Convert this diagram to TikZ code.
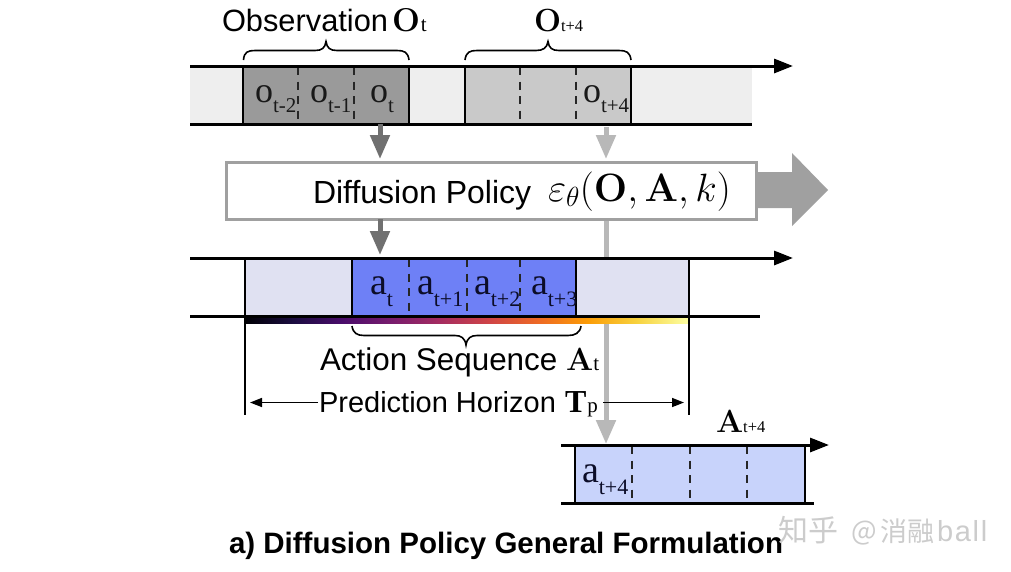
\documentclass[tikz,border=0pt]{standalone}
\usepackage{fix-cm}
\usepackage[no-math]{fontspec}
\setmainfont{Liberation Sans}
\newfontfamily\tms{Liberation Serif}
\newfontfamily\cjk{Noto Sans CJK SC}
\usetikzlibrary{arrows.meta,calc}
\definecolor{inf0}{HTML}{000004}
\definecolor{inf1}{HTML}{1B0C41}
\definecolor{inf2}{HTML}{4A0C6B}
\definecolor{inf3}{HTML}{781C6D}
\definecolor{inf4}{HTML}{A52C60}
\definecolor{inf5}{HTML}{CF4446}
\definecolor{inf6}{HTML}{ED6925}
\definecolor{inf7}{HTML}{FB9B06}
\definecolor{inf8}{HTML}{F7D13D}
\definecolor{inf9}{HTML}{FCFFA4}
\pgfdeclarehorizontalshading{inferno}{100bp}{
 color(0bp)=(inf0); color(25bp)=(inf0);
 color(30.5bp)=(inf1); color(36bp)=(inf2);
 color(41.5bp)=(inf3); color(47bp)=(inf4);
 color(52.5bp)=(inf5); color(58bp)=(inf6);
 color(63.5bp)=(inf7); color(69bp)=(inf8); color(75bp)=(inf9);
 color(100bp)=(inf9)}
\definecolor{pale}{HTML}{EEEEEE}
\definecolor{obsdark}{HTML}{9A9A9A}
\definecolor{obslight}{HTML}{C9C9C9}
\definecolor{actpale}{HTML}{E0E1F2}
\definecolor{actblue}{HTML}{6E80F6}
\definecolor{actlight}{HTML}{C8D3FB}
\definecolor{arrdark}{HTML}{707070}
\definecolor{arrlight}{HTML}{B8B8B8}
\definecolor{polgray}{HTML}{A0A0A0}
\definecolor{inkblue}{HTML}{0C0D28}
\newcommand{\sm}[1]{{\tms\fontsize{21}{21}\selectfont #1}}
\newcommand{\ssm}[1]{{\tms\fontsize{16.5}{17}\selectfont #1}}
\newcommand{\obst}[2]{{\tms\fontsize{36}{36}\selectfont #1}\raisebox{-10pt}{{\tms\fontsize{21}{21}\selectfont #2}}}
\newcommand{\actt}[2]{{\tms\fontsize{38}{38}\selectfont #1}\raisebox{-12.5pt}{{\tms\fontsize{22}{22}\selectfont #2}}}
\newcommand{\boldl}[1]{{\fontsize{32}{32}\selectfont$\mathbf{#1}$}}
\tikzset{
 x=1pt,y=-1pt,
 band/.style={draw=none,fill=#1,inner sep=0,outer sep=0,anchor=north west,minimum height=58pt},
 rail/.style={line width=3pt,black},
 railarrow/.style={line width=3pt,black,-{Triangle[length=19pt,width=14pt]}},
 side/.style={line width=2pt,black},
 cut/.style={line width=2.4pt,black!85,dash pattern=on 8pt off 6.5pt},
 dkarrow/.style={line width=5pt,arrdark,-{Triangle[length=24pt,width=19pt]}},
 ltarrow/.style={line width=5pt,arrlight,-{Triangle[length=24pt,width=19pt]}},
 brace/.style={line width=1.6pt,black,rounded corners=0pt},
 lbl/.style={anchor=base west,inner sep=0,outer sep=0},
 cell/.style={anchor=base west,inner sep=0,outer sep=0,text=black!90},
 acell/.style={anchor=base west,inner sep=0,outer sep=0,text=inkblue},
 hz/.style={line width=1.6pt,black,-{Triangle[length=12pt,width=9pt]}},
}
\begin{document}
\begin{tikzpicture}
\useasboundingbox (0,0) rectangle (1011,571);
\fill[white] (0,0) rectangle (1011,571);

% light connector behind everything
\coordinate (pdown) at (606,219);
\coordinate (tnext) at (606,444);
\draw[ltarrow] (pdown) -- (tnext);

% top band
\node[band=pale,minimum width=562pt] (topb) at (190,66) {};
\node[band=obsdark,minimum width=166pt] (obs) at (243,66) {};
\node[band=obslight,minimum width=166pt] (obn) at (465,66) {};
\draw[side] (obs.north west) -- (obs.south west) (obs.north east) -- (obs.south east);
\draw[side] (obn.north west) -- (obn.south west) (obn.north east) -- (obn.south east);
\foreach \x in {298,354,520,576} \draw[cut] (\x,67) -- (\x,123);
\coordinate (ts) at (190,66); \coordinate (te) at (793,66);
\coordinate (bs) at (190,124); \coordinate (be) at (752,124);
\draw[railarrow] (ts) -- (te);
\draw[rail] (bs) -- (be);
\node[cell] (o1) at (255,102) {\obst{o}{t-2}};
\node[cell] (o2) at (310,102) {\obst{o}{t-1}};
\node[cell] (o3) at (370,102) {\obst{o}{t}};
\node[cell] (o4) at (583,102) {\obst{o}{t+4}};

% braces
\draw[brace] (243.5,60) .. controls (244,52) and (248,50.5) .. (255,50.5) -- (315,50.5) .. controls (322,50.5) and (325,48) .. (326,41.5) .. controls (327,48) and (330,50.5) .. (337,50.5) -- (397,50.5) .. controls (404,50.5) and (408,52) .. (409,60);
\draw[brace] (465,60) .. controls (466,52) and (470,50.5) .. (477,50.5) -- (536,50.5) .. controls (543,50.5) and (547,48) .. (548,41.5) .. controls (549,48) and (552,50.5) .. (559,50.5) -- (619,50.5) .. controls (626,50.5) and (630,52) .. (631,60);
\node[lbl,font=\fontsize{30.8}{31}\selectfont] (obsl) at (222,31) {Observation\hspace{4pt}{\fontsize{33}{33}\selectfont$\mathbf{O}$}\hspace{1pt}\sm{t}};
\node[lbl] (obnl) at (534,31) {\boldl{O}\ssm{t+4}};

% policy box
\node[draw=polgray,line width=3pt,fill=white,inner sep=0,outer sep=0,minimum width=530pt,minimum height=57pt,anchor=north west] (pol) at (226,162) {};
\node[lbl,font=\fontsize{32}{32}\selectfont] (poltxt) at (313,203) {Diffusion Policy};
\node[anchor=base west,inner sep=0,outer sep=0] (form) at (548,201) {\fontsize{39.5}{40}\selectfont$\varepsilon_\theta(\mathbf{O},\mathbf{A},k)$};
\fill[polgray] (757,172) -- (792,172) -- (792,153) -- (828,190) -- (792,226) -- (792,208) -- (757,208) -- cycle;

% arrows through policy
\coordinate (a1s) at (380,124); \coordinate (a1e) at (380,159);
\coordinate (a2s) at (606,127); \coordinate (a2e) at (606,159);
\coordinate (a3s) at (380,219); \coordinate (a3e) at (380,255);
\draw[dkarrow] (a1s) -- (a1e);
\draw[ltarrow] (a2s) -- (a2e);
\draw[dkarrow] (a3s) -- (a3e);

% action band
\node[band=actpale,minimum width=444pt] (actb) at (245,258) {};
\node[band=actblue,minimum width=224pt] (act) at (352,258) {};
\foreach \x in {409,467,520} \draw[cut] (\x,259) -- (\x,315);
\draw[side] (act.north west) -- (act.south west) (act.north east) -- (act.south east);
\shade[shading=inferno] (245,316) rectangle (689,323);
\coordinate (ats) at (190,258); \coordinate (ate) at (793,258);
\coordinate (abs) at (190,316); \coordinate (abe) at (760,316);
\draw[railarrow] (ats) -- (ate);
\draw[rail] (abs) -- (abe);
\draw[side] (245,258) -- (245,415);
\draw[side] (689,258) -- (689,415);
\node[acell] (a1) at (370,294) {\actt{a}{t}};
\node[acell] (a2) at (417,294) {\actt{a}{t+1}};
\node[acell] (a3) at (474,294) {\actt{a}{t+2}};
\node[acell] (a4) at (531,294) {\actt{a}{t+3}};

\draw[brace] (352,326) .. controls (353,333) and (357,335.5) .. (364,335.5) -- (455,335.5) .. controls (461,335.5) and (465,338) .. (466,345) .. controls (467,338) and (471,335.5) .. (477,335.5) -- (568,335.5) .. controls (575,335.5) and (580,333) .. (581,326);
\node[lbl,font=\fontsize{31.4}{32}\selectfont] (actl) at (320,370) {Action Sequence \boldl{A}\sm{t}};

% horizon
\node[lbl,font=\fontsize{29}{29}\selectfont] (hzl) at (319,412) {Prediction Horizon\hspace{1pt} {\tms\bfseries\fontsize{32}{32}\selectfont T}\hspace{1pt}\sm{p}};
\coordinate (hl) at (250,402.5); \coordinate (hr) at (684,402.5);
\draw[hz] (hzl.west |- hl) ++(-1,0) -- (hl);
\coordinate (hm) at (603,402.5);
\draw[hz] (hm) -- (hr);

% next action
\node[band=actlight,minimum width=230pt] (nxt) at (575,445) {};
\foreach \x in {632,690,747} \draw[cut] (\x,446) -- (\x,502);
\draw[side] (nxt.north west) -- (nxt.south west) (nxt.north east) -- (nxt.south east);
\coordinate (nts) at (561,445); \coordinate (nte) at (829,445);
\coordinate (nbs) at (561,503); \coordinate (nbe) at (814,503);
\draw[railarrow] (nts) -- (nte);
\draw[rail] (nbs) -- (nbe);
\node[acell] (a5) at (582,482) {\actt{a}{t+4}};
\node[lbl] (nxtl) at (716,432) {\boldl{A}\ssm{t+4}};

% title and mark
\node[lbl,font=\fontsize{29.5}{30}\selectfont\bfseries] (title) at (229,553) {a) Diffusion Policy General Formulation};
\node[anchor=base west,inner sep=0,outer sep=0,text=black!20] (mark1) at (778,541) {\cjk\fontsize{30}{30}\selectfont 知乎};
\node[anchor=base west,inner sep=0,outer sep=0,text=black!20] (mark2) at (851,540) {\cjk\fontsize{27}{27}\selectfont @};
\node[anchor=base west,inner sep=0,outer sep=0,text=black!20] (mark3) at (880,541) {\cjk\fontsize{27}{27}\selectfont 消融};
\node[anchor=base west,inner sep=0,outer sep=0,text=black!20] (mark4) at (937,541) {\fontsize{29}{29}\addfontfeature{LetterSpace=6}\selectfont ball};
\end{tikzpicture}
\end{document}
